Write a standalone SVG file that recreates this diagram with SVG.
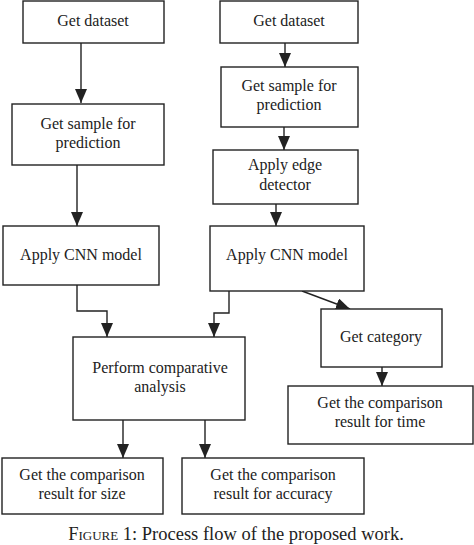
<svg xmlns="http://www.w3.org/2000/svg" width="474" height="545" viewBox="0 0 474 545">
<style>
.b{fill:#fff;stroke:#222;stroke-width:1.4}
.t{font-family:"Liberation Serif",serif;font-size:16px;fill:#222;text-anchor:middle}
.cap{font-family:"Liberation Serif",serif;font-size:18.5px;fill:#222;text-anchor:middle}
.c{fill:none;stroke:#222;stroke-width:1.4}
</style>
<defs>
<marker id="ah" viewBox="0 0 14 12" refX="14" refY="6" markerWidth="14" markerHeight="12" markerUnits="userSpaceOnUse" orient="auto">
<path d="M0,0 L14,6 L0,12 Z" fill="#222"/>
</marker>
</defs>
<rect width="474" height="545" fill="#fff"/>
<g id="connectors">
<path class="c" d="M81,43 V103" marker-end="url(#ah)"/>
<path class="c" d="M77,165 V226" marker-end="url(#ah)"/>
<path class="c" d="M285,43 V67" marker-end="url(#ah)"/>
<path class="c" d="M284,127 V150" marker-end="url(#ah)"/>
<path class="c" d="M276,204 V226" marker-end="url(#ah)"/>
<path class="c" d="M77,285 V311 H107 V337" marker-end="url(#ah)"/>
<path class="c" d="M229,291 V313 H214 V337" marker-end="url(#ah)"/>
<path class="c" d="M302,291 L350,309" marker-end="url(#ah)"/>
<path class="c" d="M382,367 V386" marker-end="url(#ah)"/>
<path class="c" d="M123,420 V458" marker-end="url(#ah)"/>
<path class="c" d="M205,420 V458" marker-end="url(#ah)"/>
</g>
<g id="n1"><rect class="b" x="23" y="1" width="141" height="42"/><text class="t" x="93" y="26">Get dataset</text></g>
<g id="n2"><rect class="b" x="12" y="104" width="152" height="61"/><text class="t" x="88" y="129">Get sample for</text><text class="t" x="88" y="148">prediction</text></g>
<g id="n3"><rect class="b" x="3" y="226" width="156" height="59"/><text class="t" x="81" y="260">Apply CNN model</text></g>
<g id="n4"><rect class="b" x="220" y="1" width="138" height="42"/><text class="t" x="289" y="26">Get dataset</text></g>
<g id="n5"><rect class="b" x="221" y="67" width="137" height="60"/><text class="t" x="289" y="91">Get sample for</text><text class="t" x="289" y="110">prediction</text></g>
<g id="n6"><rect class="b" x="213" y="150" width="145" height="54"/><text class="t" x="285" y="170">Apply edge</text><text class="t" x="285" y="190">detector</text></g>
<g id="n7"><rect class="b" x="210" y="226" width="154" height="65"/><text class="t" x="287" y="260">Apply CNN model</text></g>
<g id="n8"><rect class="b" x="73" y="337" width="172" height="83"/><text class="t" x="160" y="373">Perform comparative</text><text class="t" x="160" y="392">analysis</text></g>
<g id="n9"><rect class="b" x="321" y="309" width="121" height="58"/><text class="t" x="381" y="342">Get category</text></g>
<g id="n10"><rect class="b" x="288" y="386" width="185" height="58"/><text class="t" x="380" y="408">Get the comparison</text><text class="t" x="380" y="427">result for time</text></g>
<g id="n11"><rect class="b" x="2" y="458" width="161" height="56"/><text class="t" x="82" y="480">Get the comparison</text><text class="t" x="82" y="499">result for size</text></g>
<g id="n12"><rect class="b" x="182" y="458" width="182" height="56"/><text class="t" x="273" y="480">Get the comparison</text><text class="t" x="273" y="499">result for accuracy</text></g>
<text class="cap" x="236" y="540"><tspan font-variant="small-caps">Figure</tspan> 1: Process flow of the proposed work.</text>
</svg>
